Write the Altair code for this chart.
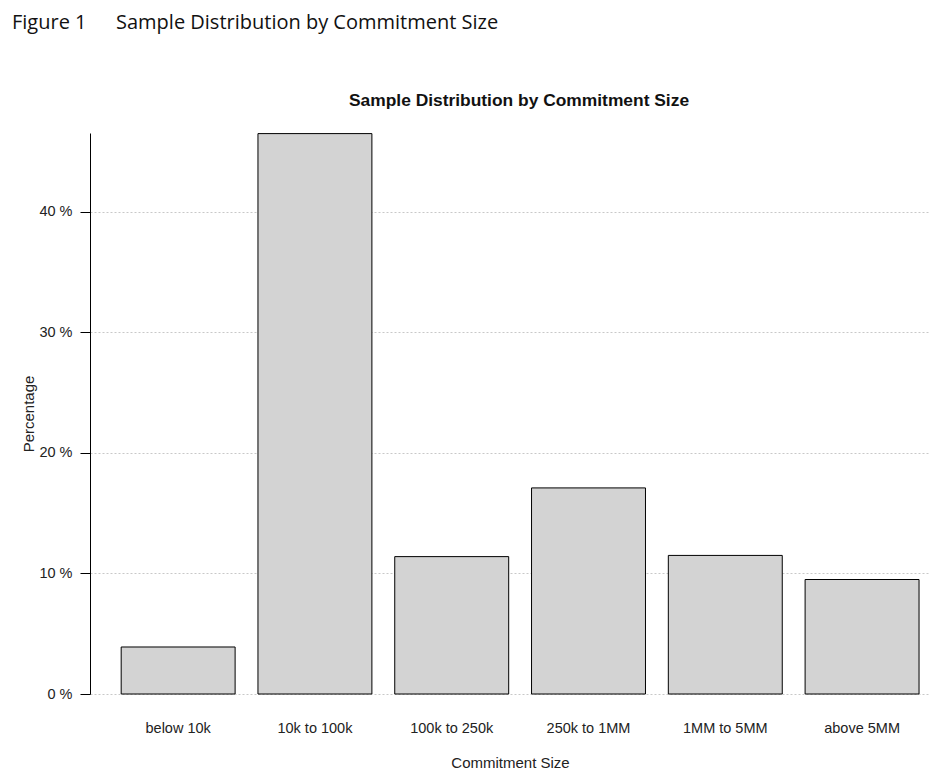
import altair as alt
import pandas as pd

categories = ["below 10k", "10k to 100k", "100k to 250k", "250k to 1MM", "1MM to 5MM", "above 5MM"]
percentages = [3.9, 46.5, 11.4, 17.1, 11.5, 9.5]
y_ticks = [0, 10, 20, 30, 40]
header_label = ["Figure 1"]
header_title = ["Sample Distribution by Commitment Size"]
chart_title = ["Sample Distribution by Commitment Size"]

df = pd.DataFrame({"size": categories, "pct": percentages})

bars = alt.Chart(df).mark_bar(
    fill="#d3d3d3", stroke="black", strokeWidth=1
).encode(
    x=alt.X("size:N", sort=categories,
            scale=alt.Scale(paddingInner=0.167, paddingOuter=0.154, align=0.74),
            axis=alt.Axis(title="Commitment Size", labelAngle=0, domain=False, ticks=False,
                          labelPadding=27, titlePadding=21, grid=False,
                          labelFont="Liberation Sans", labelFontSize=14.5, labelColor="#222",
                          titleFont="Liberation Sans", titleFontSize=15, titleFontWeight="normal",
                          titleColor="#222")),
    y=alt.Y("pct:Q", scale=alt.Scale(domain=[0, 46.55], nice=False, zero=True),
            axis=alt.Axis(title="Percentage", values=y_ticks, labelExpr="datum.value + ' %'",
                          grid=True, gridDash=[2, 2], gridColor="#c8c8c8", gridWidth=1,
                          domain=True, domainColor="black", domainWidth=1,
                          ticks=True, tickSize=10, tickColor="black", tickWidth=1,
                          labelPadding=8, titlePadding=2,
                          labelFont="Liberation Sans", labelFontSize=14.5, labelColor="#222",
                          titleFont="Liberation Sans", titleFontSize=15, titleFontWeight="normal",
                          titleColor="#222"))
)

title_mark = alt.Chart(pd.DataFrame({"t": chart_title})).mark_text(
    font="Liberation Sans", fontSize=17.4, fontWeight="bold", align="center",
    baseline="alphabetic", color="#111"
).encode(text="t:N", x=alt.value(429), y=alt.value(-27))

hdr1 = alt.Chart(pd.DataFrame({"t": header_label})).mark_text(
    font="Open Sans", fontSize=20, align="left", baseline="alphabetic", color="#111"
).encode(text="t:N", x=alt.value(-78), y=alt.value(-104))

hdr2 = alt.Chart(pd.DataFrame({"t": header_title})).mark_text(
    font="Open Sans", fontSize=20, align="left", baseline="alphabetic", color="#111"
).encode(text="t:N", x=alt.value(26), y=alt.value(-104))

chart = alt.layer(bars, title_mark, hdr1, hdr2).properties(
    width=840, height=561,
    autosize=alt.AutoSizeParams(type="none"),
    padding={"left": 82, "top": 125, "right": 1, "bottom": 80},
).configure_view(stroke=None)

chart.save("out.html", embed_options={"renderer": "svg", "actions": False})
